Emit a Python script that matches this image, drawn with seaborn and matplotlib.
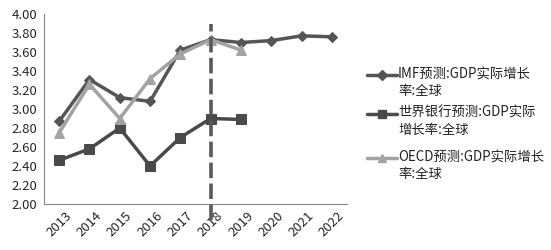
import matplotlib
matplotlib.use("Agg")
import matplotlib.pyplot as plt
from matplotlib.lines import Line2D
import seaborn as sns
import pandas as pd
import numpy as np

years = ["2013", "2014", "2015", "2016", "2017", "2018", "2019", "2020", "2021", "2022"]
imf = [2.87, 3.31, 3.12, 3.08, 3.62, 3.73, 3.70, 3.72, 3.77, 3.76]
wb = [2.46, 2.58, 2.80, 2.40, 2.70, 2.90, 2.89, np.nan, np.nan, np.nan]
oecd = [2.75, 3.26, 2.90, 3.32, 3.58, 3.73, 3.62, np.nan, np.nan, np.nan]
labels = ["IMF预测:GDP实际增长\n率:全球", "世界银行预测:GDP实际\n增长率:全球", "OECD预测:GDP实际增长\n率:全球"]
yticks = [2.00, 2.20, 2.40, 2.60, 2.80, 3.00, 3.20, 3.40, 3.60, 3.80, 4.00]

sns.set_style("white")
plt.rcParams['font.family'] = ['Noto Sans CJK SC', 'DejaVu Sans']

W, H = 551, 250
fig = plt.figure(figsize=(5.51, 2.5), dpi=100)
ax = fig.add_axes([44 / W, 1 - 204 / H, (347 - 44) / W, (204 - 14) / H])

x = np.arange(len(years))
df = pd.DataFrame({"x": x, "imf": imf, "wb": wb, "oecd": oecd})

styles = [("imf", "#555555", "D", 5.5), ("wb", "#4a4a4a", "s", 7.5), ("oecd", "#a3a3a3", "^", 7.5)]
for (col, color, marker, ms), lab in zip(styles, labels):
    sns.lineplot(data=df, x="x", y=col, ax=ax, color=color, marker=marker,
                 markersize=ms, markeredgecolor=color, linewidth=2.5, label=lab, legend=False)

ax.axvline(5, ymin=-0.085, ymax=0.95, color="#5a5a5a", linestyle=(0, (4.3, 1.5)),
           linewidth=2.6, clip_on=False, zorder=5)

ax.set_xlim(-0.5, 9.5)
ax.set_ylim(2.0, 4.0)
ax.set_yticks(yticks)
ax.set_yticklabels([f"{v:.2f}" for v in yticks], fontsize=9.5)
ax.set_xticks(x)
ax.set_xticklabels(years, rotation=45, fontsize=9.5)
ax.set_xlabel("")
ax.set_ylabel("")
for s in ["top", "right"]:
    ax.spines[s].set_visible(False)
for s in ["left", "bottom"]:
    ax.spines[s].set_color("#888888")
ax.tick_params(axis="both", direction="out", length=3, color="#888888", pad=2)
ax.set_xticks(np.arange(-0.5, 10, 1), minor=True)
ax.tick_params(axis="x", which="major", length=0, pad=4)
ax.tick_params(axis="x", which="minor", length=4, color="#888888")

# manual legend: handle aligned with the first text line
entry_y = [75, 114, 158]
for (col, color, marker, ms), lab, yy in zip(styles, labels, entry_y):
    yf = 1 - yy / H
    fig.add_artist(Line2D([367 / W, 397 / W], [yf, yf], color=color, linewidth=2.5,
                          transform=fig.transFigure))
    fig.add_artist(Line2D([382 / W], [yf], color=color, marker=marker, markersize=ms * 0.85,
                          markeredgecolor=color, linestyle="none", transform=fig.transFigure))
    fig.text(398 / W, yf + 8 / H, lab, fontsize=9.6, va="top", ha="left", color="#222222",
             linespacing=1.3, transform=fig.transFigure)

fig.savefig("out.png", dpi=100)
